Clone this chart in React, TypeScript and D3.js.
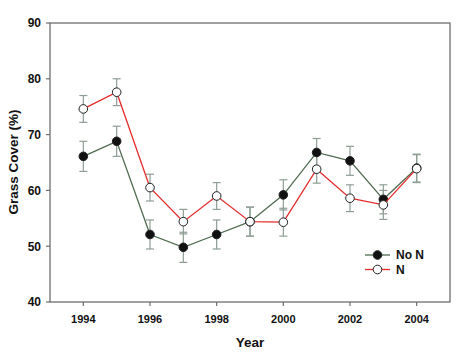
import * as d3 from 'd3';

const years = [1994, 1995, 1996, 1997, 1998, 1999, 2000, 2001, 2002, 2003, 2004];
const noN = [66.1, 68.8, 52.1, 49.8, 52.1, 54.4, 59.2, 66.8, 65.3, 58.4, 64.0];
const noNErr = [2.7, 2.7, 2.6, 2.7, 2.6, 2.6, 2.7, 2.5, 2.6, 2.6, 2.5];
const withN = [74.6, 77.6, 60.5, 54.4, 59.0, 54.4, 54.3, 63.8, 58.6, 57.4, 63.9];
const withNErr = [2.4, 2.4, 2.4, 2.2, 2.4, 2.6, 2.5, 2.5, 2.4, 2.6, 2.5];
const xTicks = [1994, 1996, 1998, 2000, 2002, 2004];
const yTicks = [40, 50, 60, 70, 80, 90];

const W = 474;
const H = 354;
const left = 50, right = 450, top = 23, bottom = 302;

const GREEN = '#4f6b50';
const RED = '#e52b2b';
const ERR = '#8e9e94';
const AXIS = '#6e6e6e';
const FONT = '"Liberation Sans", Arial, sans-serif';

export default function App() {
  const x = d3.scaleLinear().domain([1993, 2005]).range([left, right]);
  const y = d3.scaleLinear().domain([40, 90]).range([bottom, top]);

  const line = d3.line<number>()
    .x((_, i) => x(years[i]))
    .y(d => y(d));

  const series = [
    { key: 'noN', vals: noN, err: noNErr, color: GREEN, fill: '#111' },
    { key: 'N', vals: withN, err: withNErr, color: RED, fill: '#fff' },
  ];

  return (
    <div style={{ position: 'absolute', left: 0, top: 0 }}>
      <svg width={W} height={H} style={{ display: 'block', background: '#fff' }}>
        {/* frame */}
        <rect x={left} y={top} width={right - left} height={bottom - top}
          fill="none" stroke={AXIS} strokeWidth={1.3} />

        {/* y axis */}
        {yTicks.map(t => (
          <g key={t}>
            <line x1={left - 4} x2={left} y1={y(t)} y2={y(t)} stroke={AXIS} strokeWidth={1.2} />
            <text x={left - 9} y={y(t)} dy="0.36em" textAnchor="end"
              fontFamily={FONT} fontWeight="bold" fontSize={12} fill="#111">{t}</text>
          </g>
        ))}

        {/* x axis */}
        {xTicks.map(t => (
          <g key={t}>
            <line x1={x(t)} x2={x(t)} y1={bottom} y2={bottom + 4} stroke={AXIS} strokeWidth={1.2} />
            <text x={x(t)} y={bottom + 21} textAnchor="middle"
              fontFamily={FONT} fontWeight="bold" fontSize={11} fill="#111">{t}</text>
          </g>
        ))}

        <text x={250} y={347} textAnchor="middle" fontFamily={FONT} fontWeight="bold"
          fontSize={13.5} fill="#111">Year</text>
        <text transform={`translate(18,162) rotate(-90)`} textAnchor="middle"
          fontFamily={FONT} fontWeight="bold" fontSize={13.5} fill="#111">Grass Cover (%)</text>

        {/* error bars */}
        {series.map(s => (
          <g key={s.key + '-err'} stroke={ERR} strokeWidth={1.2}>
            {s.vals.map((v, i) => {
              const cx = x(years[i]);
              const y1 = y(v + s.err[i]);
              const y2 = y(v - s.err[i]);
              return (
                <g key={i}>
                  <line x1={cx} x2={cx} y1={y1} y2={y2} />
                  <line x1={cx - 4} x2={cx + 4} y1={y1} y2={y1} />
                  <line x1={cx - 4} x2={cx + 4} y1={y2} y2={y2} />
                </g>
              );
            })}
          </g>
        ))}

        {/* lines and markers */}
        {series.map(s => (
          <g key={s.key}>
            <path d={line(s.vals) || ''} fill="none" stroke={s.color} strokeWidth={1.3} />
            {s.vals.map((v, i) => (
              <circle key={i} cx={x(years[i])} cy={y(v)} r={4.3}
                fill={s.fill} stroke="#222" strokeWidth={1} />
            ))}
          </g>
        ))}

        {/* legend */}
        <g fontFamily={FONT} fontWeight="bold" fontSize={12} fill="#111">
          <line x1={365} x2={390} y1={255} y2={255} stroke={GREEN} strokeWidth={1.3} />
          <circle cx={377.5} cy={255} r={4.3} fill="#111" stroke="#222" />
          <text x={396} y={255} dy="0.36em">No N</text>
          <line x1={365} x2={390} y1={269.5} y2={269.5} stroke={RED} strokeWidth={1.3} />
          <circle cx={377.5} cy={269.5} r={4.3} fill="#fff" stroke="#222" />
          <text x={396} y={269.5} dy="0.36em">N</text>
        </g>
      </svg>
    </div>
  );
}
